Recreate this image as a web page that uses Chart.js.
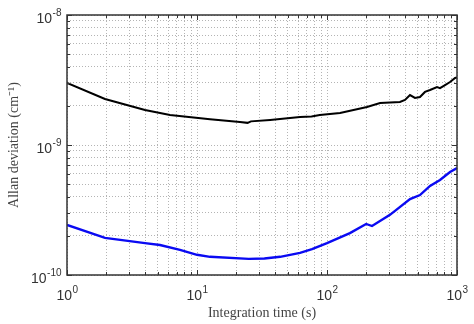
<!DOCTYPE html>
<html>
<head>
<meta charset="utf-8">
<script src="https://cdn.jsdelivr.net/npm/chart.js@4.4.1/dist/chart.umd.min.js"></script>
<style>
  body { margin: 0; background: #fff; }
</style>
</head>
<body>
<canvas id="grafico" width="474" height="324"></canvas>
<script>
// integration time (s) and Allan deviation (cm^-1), black trace
var tiempoNegro = [1, 1.96, 3.98, 6.2, 12.6, 21.4, 24.5, 26, 36.5, 62, 76, 88, 126, 203, 256, 364, 398, 435, 475, 519, 567, 620, 702, 740, 809, 884, 966, 1000];
var allanNegro = [3.0e-9, 2.26e-9, 1.86e-9, 1.70e-9, 1.58e-9, 1.50e-9, 1.48e-9, 1.52e-9, 1.56e-9, 1.64e-9, 1.66e-9, 1.70e-9, 1.76e-9, 1.96e-9, 2.10e-9, 2.14e-9, 2.22e-9, 2.42e-9, 2.30e-9, 2.34e-9, 2.56e-9, 2.65e-9, 2.79e-9, 2.74e-9, 2.89e-9, 3.05e-9, 3.28e-9, 3.3e-9];

// blue trace
var tiempoAzul = [1, 1.96, 3.98, 5.19, 7.4, 10, 12.6, 25, 33, 43.6, 62, 76.7, 100, 150, 200, 222, 305, 435, 519, 620, 740, 884, 1000];
var allanAzul = [2.43e-10, 1.93e-10, 1.76e-10, 1.70e-10, 1.56e-10, 1.43e-10, 1.38e-10, 1.33e-10, 1.34e-10, 1.38e-10, 1.48e-10, 1.58e-10, 1.76e-10, 2.10e-10, 2.47e-10, 2.38e-10, 2.9e-10, 3.84e-10, 4.12e-10, 4.84e-10, 5.38e-10, 6.2e-10, 6.65e-10];

// decades shown on each axis
var decadasX = [0, 1, 2, 3];
var decadasY = [-10, -9, -8];

var tituloX = 'Integration time (s)';
var tituloY = 'Allan deviation (cm\u207B\u00B9)';

// log grid values: 1..9 times each decade, up to the last decade
function valoresLog(decadas) {
  var vals = [];
  for (var i = 0; i < decadas.length; i++) {
    var base = Math.pow(10, decadas[i]);
    if (i === decadas.length - 1) { vals.push(base); break; }
    for (var k = 1; k <= 9; k++) vals.push(k * base);
  }
  return vals;
}
var gridX = valoresLog(decadasX);
var gridY = valoresLog(decadasY);

function armarPuntos(xs, ys) {
  return xs.map(function (x, i) { return { x: x, y: ys[i] }; });
}

function esDecada(v) {
  var lg = Math.log10(v);
  return Math.abs(lg - Math.round(lg)) < 1e-9;
}

// box, inward ticks, power-of-ten labels and axis titles
var ejesMatlab = {
  id: 'ejesMatlab',
  afterDraw: function (chart) {
    var ctx = chart.ctx;
    var a = chart.chartArea;
    var sx = chart.scales.x, sy = chart.scales.y;
    ctx.save();
    ctx.strokeStyle = '#333';
    ctx.lineWidth = 1;
    ctx.beginPath();
    gridX.forEach(function (v) {
      var px = Math.round(sx.getPixelForValue(v)) + 0.5;
      var l = esDecada(v) ? 5 : 3;
      ctx.moveTo(px, a.bottom); ctx.lineTo(px, a.bottom - l);
      ctx.moveTo(px, a.top); ctx.lineTo(px, a.top + l);
    });
    gridY.forEach(function (v) {
      var py = Math.round(sy.getPixelForValue(v)) + 0.5;
      var l = esDecada(v) ? 5 : 3;
      ctx.moveTo(a.left, py); ctx.lineTo(a.left + l, py);
      ctx.moveTo(a.right, py); ctx.lineTo(a.right - l, py);
    });
    ctx.stroke();

    ctx.lineWidth = 1.5;
    ctx.strokeRect(a.left, a.top, a.right - a.left, a.bottom - a.top);

    // tick labels 10^n
    ctx.fillStyle = '#333';
    ctx.textBaseline = 'alphabetic';
    var fBase = '14px "Liberation Sans", Arial, sans-serif';
    var fExp = '10px "Liberation Sans", Arial, sans-serif';
    function medir(e) {
      ctx.font = fBase; var w1 = ctx.measureText('10').width;
      ctx.font = fExp; var w2 = ctx.measureText(String(e)).width;
      return [w1, w2];
    }
    function potencia(e, x, y) {
      var w = medir(e);
      ctx.font = fBase; ctx.textAlign = 'left';
      ctx.fillText('10', x, y);
      ctx.font = fExp;
      ctx.fillText(String(e), x + w[0] + 0.5, y - 7);
    }
    decadasX.forEach(function (e) {
      var px = sx.getPixelForValue(Math.pow(10, e));
      var w = medir(e);
      potencia(e, px - (w[0] + w[1]) / 2, a.bottom + 25);
    });
    decadasY.forEach(function (e) {
      var py = sy.getPixelForValue(Math.pow(10, e));
      var w = medir(e);
      potencia(e, a.left - 6 - w[0] - w[1], py + 8);
    });

    // axis titles
    ctx.fillStyle = '#444';
    ctx.font = '14px "Liberation Serif", "Times New Roman", serif';
    ctx.textAlign = 'center';
    ctx.fillText(tituloX, (a.left + a.right) / 2, 317);
    ctx.translate(18, (a.top + a.bottom) / 2);
    ctx.rotate(-Math.PI / 2);
    ctx.fillText(tituloY, 0, 0);
    ctx.restore();
  }
};

document.addEventListener('DOMContentLoaded', function () {
  var ctx = document.getElementById('grafico').getContext('2d');
  new Chart(ctx, {
    type: 'scatter',
    data: {
      datasets: [{
        label: 'negro',
        data: armarPuntos(tiempoNegro, allanNegro),
        showLine: true,
        borderColor: '#000',
        borderWidth: 2,
        pointRadius: 0,
        tension: 0
      }, {
        label: 'azul',
        data: armarPuntos(tiempoAzul, allanAzul),
        showLine: true,
        borderColor: '#0a0af2',
        borderWidth: 2.4,
        pointRadius: 0,
        tension: 0
      }]
    },
    options: {
      responsive: false,
      animation: false,
      layout: { padding: { left: 67, right: 17, top: 15, bottom: 49 } },
      plugins: { legend: { display: false }, tooltip: { enabled: false } },
      scales: {
        x: {
          type: 'logarithmic',
          min: 1, max: 1000,
          afterBuildTicks: function (axis) { axis.ticks = gridX.map(function (v) { return { value: v }; }); },
          ticks: { display: false, autoSkip: false },
          border: { display: false, dash: [1, 2] },
          grid: { color: '#b4b4b4', lineWidth: 1, drawTicks: false }
        },
        y: {
          type: 'logarithmic',
          min: 1e-10, max: 1e-8,
          afterBuildTicks: function (axis) { axis.ticks = gridY.map(function (v) { return { value: v }; }); },
          ticks: { display: false, autoSkip: false },
          border: { display: false, dash: [1, 2] },
          grid: { color: '#b4b4b4', lineWidth: 1, drawTicks: false }
        }
      }
    },
    plugins: [ejesMatlab]
  });
});
</script>
</body>
</html>
